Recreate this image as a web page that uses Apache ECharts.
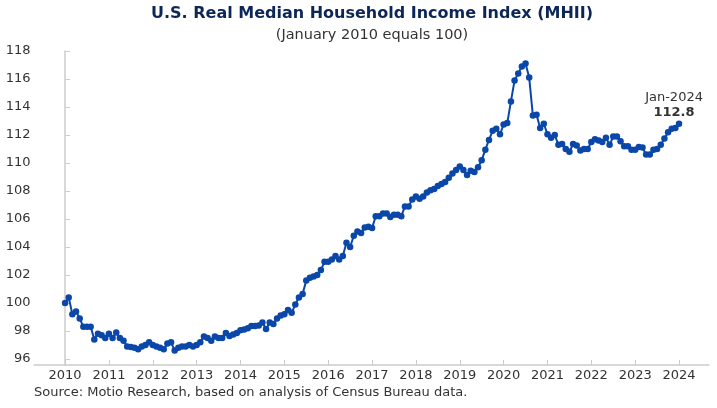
<!DOCTYPE html>
<html>
<head>
<meta charset="utf-8">
<script src="https://cdn.jsdelivr.net/npm/echarts@6/dist/echarts.min.js"></script>
<style>html,body{margin:0;padding:0;background:#fff}#c{width:717px;height:408px}</style>
</head>
<body>
<div id="c"></div>
<script>
var years = ['2010','2011','2012','2013','2014','2015','2016','2017','2018','2019','2020','2021','2022','2023','2024'];
var yTicks = [96,98,100,102,104,106,108,110,112,114,116,118];
// Monthly index values, Jan 2010 .. Jan 2024
var v2010 = [100.0,100.4,99.2,99.4,98.9,98.3,98.3,98.3,97.4,97.8,97.7,97.5];
var v2011 = [97.8,97.5,97.9,97.5,97.3,96.9,96.85,96.8,96.7,96.9,97.0,97.2];
var v2012 = [97.0,96.9,96.8,96.7,97.1,97.2,96.6,96.8,96.9,96.9,97.0,96.9];
var v2013 = [97.0,97.2,97.6,97.5,97.3,97.6,97.5,97.5,97.85,97.65,97.75,97.85];
var v2014 = [98.05,98.1,98.2,98.35,98.35,98.4,98.6,98.15,98.6,98.5,98.9,99.1];
var v2015 = [99.2,99.5,99.3,99.9,100.4,100.65,101.6,101.8,101.9,102.0,102.35,102.95];
var v2016 = [102.95,103.1,103.35,103.1,103.35,104.3,104.0,104.8,105.1,105.0,105.4,105.45];
var v2017 = [105.35,106.2,106.2,106.4,106.4,106.15,106.3,106.3,106.2,106.9,106.9,107.4];
var v2018 = [107.6,107.45,107.6,107.9,108.05,108.15,108.35,108.5,108.65,108.95,109.25,109.5];
var v2019 = [109.75,109.5,109.15,109.45,109.35,109.7,110.2,110.95,111.65,112.3,112.45,112.05];
var v2020 = [112.75,112.85,114.4,115.9,116.4,116.9,117.1,116.1,113.4,113.45,112.5,112.8];
var v2021 = [112.05,111.8,112.0,111.3,111.35,111.0,110.8,111.35,111.25,110.9,111.0,111.0];
var v2022 = [111.5,111.7,111.6,111.5,111.8,111.3,111.9,111.9,111.55,111.2,111.2,110.95];
var v2023 = [110.95,111.15,111.1,110.6,110.6,110.95,111.0,111.3,111.75,112.2,112.45,112.5];
var v2024 = [112.8];
var lastLabel = 'Jan-2024';

var all = [].concat(v2010,v2011,v2012,v2013,v2014,v2015,v2016,v2017,v2018,v2019,v2020,v2021,v2022,v2023,v2024);
var data = all.map(function(v,i){
  var item = {value:[i,v]};
  if (i === all.length-1) {
    item.label = {
      show:true, position:'top', distance:0, offset:[-5,0],
      formatter: '{a|' + lastLabel + '}\n{b|' + v.toFixed(1) + '}',
      rich:{
        a:{fontFamily:'DejaVu Sans',fontSize:13,color:'#333',lineHeight:15,align:'center'},
        b:{fontFamily:'DejaVu Sans',fontSize:13,fontWeight:'bold',color:'#333',lineHeight:15,align:'center'}
      }
    };
  }
  return item;
});
var xTickVals = years.map(function(y,i){return i*12;});

var chart = echarts.init(document.getElementById('c'));
chart.setOption({
  animation:false,
  backgroundColor:'#fff',
  title:[{
    text:'U.S. Real Median Household Income Index (MHII)',
    left:367, top:1, textAlign:'center',
    textStyle:{fontFamily:'DejaVu Sans',fontSize:16,fontWeight:'bold',color:'#0c2757'}
  },{
    text:'(January 2010 equals 100)',
    left:367, top:23, textAlign:'center',
    textStyle:{fontFamily:'DejaVu Sans',fontSize:14.5,fontWeight:'normal',color:'#333'}
  },{
    text:'Source: Motio Research, based on analysis of Census Bureau data.',
    left:29, top:381,
    textStyle:{fontFamily:'DejaVu Sans',fontSize:13,fontWeight:'normal',color:'#333'}
  }],
  grid:{left:34,right:8,top:51,bottom:43,containLabel:false},
  xAxis:{
    type:'value', min:-8.5, max:176.2,
    axisLine:{show:true,lineStyle:{color:'#cccccc',width:1.5}},
    axisTick:{show:true,inside:true,length:5,lineStyle:{color:'#cccccc'},customValues:xTickVals},
    axisLabel:{fontFamily:'DejaVu Sans',fontSize:13,color:'#333',margin:4,customValues:xTickVals,
      formatter:function(v){return years[Math.round(v/12)];}},
    splitLine:{show:false}
  },
  yAxis:{
    type:'value', min:95.57, max:118,
    axisLine:{show:true,lineStyle:{color:'#cccccc',width:1.5}},
    axisTick:{show:true,inside:true,length:5,lineStyle:{color:'#cccccc'},customValues:yTicks},
    axisLabel:{fontFamily:'DejaVu Sans',fontSize:13,color:'#333',margin:3.5,customValues:yTicks},
    splitLine:{show:false}
  },
  series:[{
    type:'line', data:data,
    symbol:'circle', symbolSize:6.5, showSymbol:true,
    lineStyle:{color:'#0a47a8',width:2},
    itemStyle:{color:'#0a47a8'},
    clip:false
  }]
});
</script>
</body>
</html>
